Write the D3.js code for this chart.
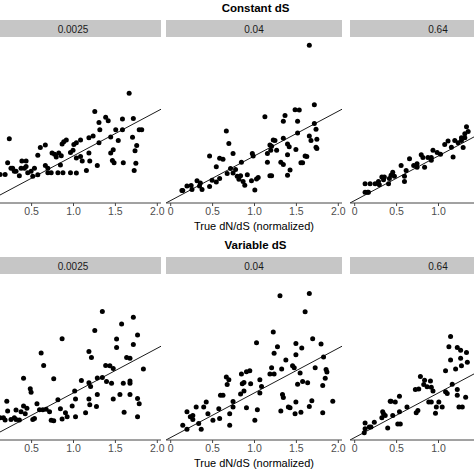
<!DOCTYPE html>
<html><head><meta charset="utf-8">
<script src="https://cdn.jsdelivr.net/npm/d3@7"></script>
<style>body{margin:0;background:#fff}svg{display:block;font-family:"Liberation Sans",Arial,sans-serif}</style>
</head><body><div id="chart"></div>
<script>
const rows = ["Constant dS", "Variable dS"];
const facets = ["0.0025", "0.04", "0.64"];
const xTicks = [0, 0.5, 1.0, 1.5, 2.0];

// [true, estimated] per panel
const constA = [[1.67,2.41],[1.26,2.0],[1.39,1.87],[1.42,1.79],[1.59,1.83],[1.72,1.84],[1.31,1.75],[1.32,1.59],[1.51,1.59],[1.59,1.59],[1.79,1.59],[1.82,1.59],[1.71,1.42],[0.24,1.39],[1.24,1.45],[1.19,1.41],[1.45,1.43],[1.54,1.35],[1.31,1.30],[1.76,1.24],[1.74,1.12],[1.09,1.36],[1.04,1.30],[1.01,1.26],[0.89,1.32],[0.87,1.27],[0.92,1.36],[0.67,1.25],[0.61,1.19],[0.58,1.02],[0.75,1.07],[0.78,1.04],[0.83,1.07],[0.86,1.01],[0.80,0.98],[0.97,1.08],[1.00,1.13],[1.04,0.96],[1.11,0.89],[1.09,0.99],[1.19,1.07],[1.20,0.89],[1.16,0.68],[1.29,0.79],[1.45,1.07],[1.48,1.14],[1.47,0.90],[1.49,0.85],[1.60,0.85],[1.75,0.84],[1.73,0.68],[0.85,0.80],[0.88,0.63],[0.82,0.63],[0.97,0.63],[1.04,0.62],[0.74,0.63],[0.70,0.63],[0.70,0.73],[0.67,0.79],[0.58,0.58],[0.54,0.73],[0.50,0.66],[0.46,0.63],[0.44,0.77],[0.39,0.89],[0.44,0.89],[0.42,0.73],[0.38,0.73],[0.36,0.56],[0.32,0.66],[0.26,0.73],[0.28,0.73],[0.22,0.85],[0.19,0.59],[0.13,0.59],[0.52,0.55],[0.30,0.66]];
const constB = [[0.14,0.23],[0.15,0.23],[0.25,0.34],[0.26,0.25],[0.36,0.40],[0.35,0.33],[0.38,0.25],[0.47,0.32],[0.47,1.00],[0.50,0.46],[0.55,0.42],[0.59,0.50],[0.59,0.95],[0.63,0.93],[0.67,1.56],[0.70,1.28],[0.68,0.61],[0.72,0.72],[0.75,1.06],[0.75,0.62],[0.55,0.76],[0.32,0.45],[0.20,0.33],[1.66,3.48],[1.13,1.88],[1.49,2.04],[1.54,2.03],[1.72,2.15],[1.37,1.91],[1.35,1.78],[1.52,1.78],[1.72,1.73],[1.74,1.60],[1.52,1.52],[1.66,1.45],[1.68,1.35],[1.75,1.38],[1.74,1.20],[1.75,1.17],[1.35,1.40],[1.40,1.27],[1.42,1.21],[1.50,1.15],[1.63,0.99],[1.61,1.00],[1.56,0.85],[1.58,0.85],[1.43,0.69],[1.40,0.57],[1.32,0.86],[1.35,0.81],[1.40,1.03],[1.23,1.36],[1.25,1.35],[1.21,1.22],[1.19,1.25],[1.20,1.13],[1.27,1.13],[1.16,1.06],[1.16,0.86],[1.19,0.56],[1.21,0.56],[0.98,1.06],[0.99,1.00],[1.03,0.49],[1.05,0.52],[0.97,0.45],[1.01,0.24],[0.92,0.58],[0.85,0.86],[0.87,0.43],[0.89,0.35],[0.84,0.56],[0.78,0.70],[0.80,0.55],[0.82,0.48]];
const constC = [[0.13,0.19],[0.16,0.19],[0.17,0.19],[0.13,0.38],[0.19,0.38],[0.25,0.38],[0.29,0.43],[0.30,0.36],[0.35,0.47],[0.36,0.53],[0.41,0.38],[0.42,0.50],[0.46,0.64],[0.48,0.55],[0.44,0.57],[0.56,0.79],[0.60,0.55],[0.62,0.68],[0.66,0.94],[0.71,0.79],[0.75,0.83],[0.80,1.03],[0.82,0.97],[0.88,0.97],[0.84,0.75],[0.92,0.97],[0.94,1.13],[1.03,1.04],[1.08,1.26],[1.12,1.34],[1.18,0.98],[1.16,1.20],[1.24,1.30],[1.20,1.35],[1.28,1.35],[1.32,1.50],[1.34,1.66],[1.32,1.41],[1.30,1.19],[1.36,1.55],[0.60,0.43],[0.33,0.53],[0.75,0.75],[0.92,0.91],[0.99,1.08],[1.28,1.41]];
const varA = [[1.35,2.83],[1.72,2.70],[1.58,2.55],[1.26,2.40],[1.77,2.30],[0.87,2.22],[1.52,2.21],[1.52,2.02],[1.72,2.09],[0.62,1.90],[1.19,1.93],[1.22,1.80],[1.64,1.80],[1.68,1.78],[0.65,1.62],[1.39,1.62],[1.44,1.61],[1.48,1.55],[1.84,1.54],[0.77,1.32],[1.10,1.28],[0.41,1.33],[0.49,1.10],[0.50,1.02],[1.02,1.05],[1.19,1.23],[1.21,1.15],[1.29,1.34],[1.35,1.35],[1.40,1.26],[1.46,1.22],[1.60,1.22],[1.68,1.22],[1.68,1.27],[1.68,0.97],[1.56,0.97],[1.29,0.97],[1.19,0.87],[1.20,0.74],[1.28,0.70],[1.15,0.56],[1.48,0.87],[1.61,0.57],[1.77,0.88],[1.79,0.76],[1.77,0.47],[0.82,0.85],[0.85,0.65],[0.91,0.56],[0.87,0.42],[0.74,0.39],[0.77,0.38],[0.93,0.47],[0.99,0.71],[1.03,0.47],[1.03,0.87],[0.68,0.64],[0.64,0.63],[0.60,0.63],[0.72,0.58],[0.57,0.76],[0.54,0.43],[0.52,0.41],[0.41,0.71],[0.45,0.66],[0.43,0.54],[0.38,0.58],[0.32,0.62],[0.32,0.41],[0.30,0.45],[0.21,0.82],[0.22,0.60],[0.17,0.45],[0.13,0.45],[0.26,0.41],[0.19,0.40],[0.36,0.40]];
const varB = [[0.15,0.28],[0.20,0.19],[0.20,0.58],[0.24,0.47],[0.27,0.41],[0.31,0.69],[0.34,0.32],[0.37,0.19],[0.40,0.69],[0.43,0.80],[0.45,0.54],[0.51,0.39],[0.59,0.43],[0.60,0.95],[0.63,0.95],[0.67,1.36],[0.70,1.30],[0.68,1.19],[0.71,0.28],[0.71,0.54],[0.75,0.81],[0.75,0.69],[0.58,0.65],[0.27,0.50],[1.31,3.18],[1.66,3.23],[1.61,2.82],[1.23,2.37],[1.03,2.13],[1.28,2.04],[1.24,1.89],[1.50,2.11],[1.70,2.22],[1.80,2.10],[1.57,2.01],[1.50,1.86],[1.83,1.81],[1.38,1.74],[1.21,1.57],[1.24,1.43],[1.19,1.43],[1.33,1.54],[1.46,1.61],[1.48,1.57],[1.73,1.57],[1.86,1.53],[1.87,1.47],[1.85,1.33],[1.82,1.17],[1.55,1.45],[1.58,1.26],[1.64,1.23],[1.52,1.20],[1.34,0.97],[1.35,0.90],[1.50,0.80],[1.07,1.30],[1.09,1.15],[1.07,1.00],[0.95,1.50],[0.91,1.48],[0.88,1.24],[0.88,1.05],[0.96,1.21],[1.01,0.39],[1.04,0.63],[0.91,0.67],[1.32,0.60],[1.41,0.69],[1.43,0.67],[1.49,0.54],[1.56,0.57],[1.66,0.70],[1.69,0.83],[1.82,0.56],[1.94,0.82],[0.84,0.98],[0.86,1.21],[0.85,1.43]];
const varC = [[0.12,0.11],[0.13,0.33],[0.13,0.20],[0.18,0.24],[0.20,0.24],[0.24,0.35],[0.33,0.45],[0.34,0.58],[0.35,0.54],[0.37,0.50],[0.40,0.22],[0.43,0.82],[0.44,0.82],[0.49,0.80],[0.46,0.50],[0.52,0.31],[0.55,0.31],[0.54,0.58],[0.54,0.93],[0.63,0.69],[0.74,0.56],[0.76,0.61],[0.73,1.08],[0.77,1.09],[0.79,1.37],[0.83,1.19],[0.84,1.29],[0.87,1.14],[0.91,1.27],[0.92,1.13],[0.89,0.80],[0.92,0.80],[0.94,1.05],[0.98,0.69],[0.97,0.55],[1.01,0.80],[1.05,0.69],[1.09,1.03],[1.09,1.50],[1.11,0.99],[1.13,2.04],[1.15,1.74],[1.15,2.27],[1.17,1.20],[1.21,1.54],[1.23,2.02],[1.27,1.96],[1.27,1.78],[1.28,1.61],[1.23,1.08],[1.23,0.95],[1.25,0.69],[1.29,0.69],[1.33,0.91],[1.34,1.91],[1.35,1.69]];
const panelData = [[constA, constB, constC], [varA, varB, varC]];

const W = 474, H = 474;
const svg = d3.select('#chart').append('svg').attr('width', W).attr('height', H);
const defs = svg.append('defs');

const panelLeft = [-15, 166, 350], panelW = 176;
const rowTop = [0, 237];
const x = d3.scaleLinear().domain([-0.05, 2.05]).range([0, panelW]);
const y = d3.scaleLinear().domain([-0.05, 3.6]).range([203, 40]);

rows.forEach((title, r) => {
  const gr = svg.append('g').attr('transform', `translate(0,${rowTop[r]})`);
  gr.append('text').attr('x', (panelLeft[0] + panelLeft[2] + panelW) / 2).attr('y', 12)
    .attr('text-anchor', 'middle').attr('font-size', 11.5).attr('font-weight', 'bold')
    .attr('fill', '#000').text(title);

  facets.forEach((f, c) => {
    const gp = gr.append('g').attr('transform', `translate(${panelLeft[c]},0)`);
    gp.append('rect').attr('x', 0).attr('y', 20).attr('width', panelW).attr('height', 17).attr('fill', '#c6c6c6');
    gp.append('text').attr('x', panelW / 2).attr('y', 32.5).attr('text-anchor', 'middle')
      .attr('font-size', 10).attr('fill', '#1a1a1a').text(f);

    const id = `clip${r}${c}`;
    defs.append('clipPath').attr('id', id).append('rect')
      .attr('x', 0).attr('y', 38).attr('width', panelW).attr('height', 165);
    const plot = gp.append('g').attr('clip-path', `url(#${id})`);
    plot.append('line')
      .attr('x1', x(-0.05)).attr('y1', y(-0.05)).attr('x2', x(2.05)).attr('y2', y(2.05))
      .attr('stroke', '#000').attr('stroke-width', 0.9);
    plot.selectAll('circle').data(panelData[r][c]).join('circle')
      .attr('cx', d => x(d[0])).attr('cy', d => y(d[1])).attr('r', 2.5).attr('fill', '#000');

    // only ticks whose label fits inside the window
    const visTicks = xTicks.filter(t => {
      const px = panelLeft[c] + x(t);
      return px > 4 && px < W - 8;
    });
    const ax = gp.append('g').attr('transform', 'translate(0,203)')
      .call(d3.axisBottom(x).tickValues(visTicks).tickSize(3).tickPadding(2)
        .tickFormat(d => d === 0 ? '0' : d3.format('.1f')(d)));
    ax.select('.domain').attr('stroke', '#444').attr('d', `M0,0H${panelW}`);
    ax.selectAll('.tick line').attr('stroke', '#444');
    ax.selectAll('text').attr('font-size', 10.5).attr('fill', '#4d4d4d')
      .attr('font-family', '"Liberation Sans",Arial,sans-serif');
  });

  gr.append('text').attr('x', panelLeft[1] + panelW / 2).attr('y', 230)
    .attr('text-anchor', 'middle').attr('font-size', 11).attr('fill', '#000')
    .text('True dN/dS (normalized)');
});
</script></body></html>
